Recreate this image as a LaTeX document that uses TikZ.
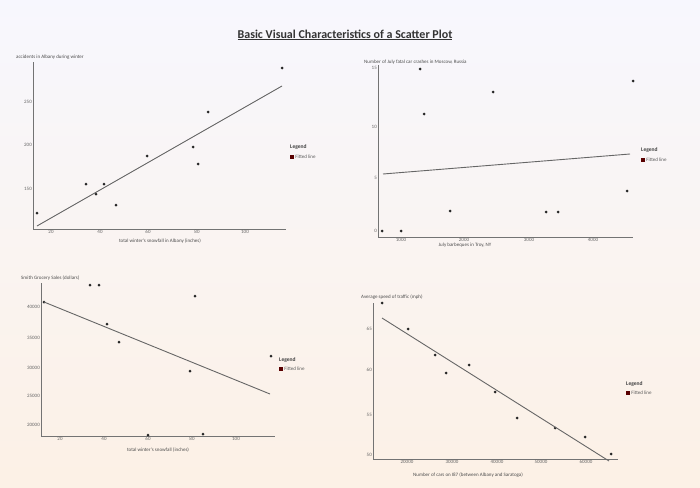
\documentclass[tikz,border=0pt]{standalone}
\usepackage{fontspec}
\setmainfont{Carlito}
\begin{document}
\begin{tikzpicture}[x=1pt,y=-1pt,
  ax/.style={draw=black!55,line width=0.6pt},
  fit/.style={draw=black!60,line width=0.9pt},
  pt/.style={circle,fill=black!85,inner sep=0pt,minimum size=3pt},
  tk/.style={font=\fontsize{5}{6}\selectfont,text=black!60,inner sep=1pt},
  lab/.style={font=\fontsize{5}{6}\selectfont,text=black!70,inner sep=0pt},
  leg/.style={font=\bfseries\fontsize{5.5}{6}\selectfont,text=black!75,anchor=west,inner sep=0pt},
  legi/.style={font=\fontsize{5}{6}\selectfont,text=black!65,anchor=west,inner sep=0pt}]
\useasboundingbox (0,0) rectangle (700,487);
\shade[top color=black!16!blue!3!white,bottom color=black!12!orange!10!white] (0,0) rectangle (700,487);
\node[font=\bfseries\fontsize{12}{14}\selectfont,text=black!80] (title) at (345,35) {\underline{Basic Visual Characteristics of a Scatter Plot}};
% Plot 1
\draw[ax] (33,62) -- (33,229) -- (286,229);
\foreach \y/\l in {102/250,145/200,189/150} \node[tk,anchor=east] at (33,\y) {\l};
\foreach \x/\l in {51/20,100/40,148/60,197/80,245/100} \node[tk,anchor=north] at (\x,229) {\l};
\node[lab,anchor=west] (t1) at (16,57) {accidents in Albany during winter};
\node[lab] (x1) at (160,241) {total winter's snowfall in Albany (inches)};
\foreach \p in {(282,68),(208,112),(193,147),(198,164),(147,156),(86,184),(96,194),(104,184),(116,205),(37,213)} \node[pt] at \p {};
\coordinate (a1) at (37,226); \coordinate (b1) at (282,86);
\draw[fit] (a1) -- (b1);
\node[leg] (l1) at (290,147) {Legend};
\node[legi] (f1) at (290,157) {\textcolor{black!65!red}{\rule{4pt}{4pt}} Fitted line};
% Plot 2
\draw[ax] (378,65) -- (378,237) -- (633,237);
\foreach \y/\l in {68/15,127/10,178/5,231/0} \node[tk,anchor=east] at (378,\y) {\l};
\foreach \x/\l in {401/1000,464/2000,529/3000,593/4000} \node[tk,anchor=north] at (\x,237) {\l};
\node[lab,anchor=west] (t2) at (364,62) {Number of July fatal car crashes in Moscow, Russia};
\node[lab] (x2) at (465,245) {July barbeques in Troy, NY};
\foreach \p in {(420,69),(493,92),(424,114),(633,81),(627,191),(450,211),(546,212),(558,212),(382,231),(401,231)} \node[pt] at \p {};
\coordinate (a2) at (383,174); \coordinate (b2) at (630,154);
\draw[fit] (a2) -- (b2);
\node[leg] (l2) at (641,150) {Legend};
\node[legi] (f2) at (641,160) {\textcolor{black!65!red}{\rule{4pt}{4pt}} Fitted line};
% Plot 3
\draw[ax] (41,283) -- (41,436) -- (275,436);
\foreach \y/\l in {307/40000,338/35000,368/30000,396/25000,425/20000} \node[tk,anchor=east] at (41,\y) {\l};
\foreach \x/\l in {60/20,104/40,148/60,192/80,236/100} \node[tk,anchor=north] at (\x,436) {\l};
\node[lab,anchor=west] (t3) at (21,278) {Smith Grocery Sales (dollars)};
\node[lab] (x3) at (158,450) {total winter's snowfall (inches)};
\foreach \p in {(90,285),(99,285),(195,296),(44,302),(107,324),(119,342),(271,356),(190,371),(148,435),(203,434)} \node[pt] at \p {};
\coordinate (a3) at (44,302); \coordinate (b3) at (270,394);
\draw[fit] (a3) -- (b3);
\node[leg] (l3) at (279,360) {Legend};
\node[legi] (f3) at (279,369) {\textcolor{black!65!red}{\rule{4pt}{4pt}} Fitted line};
% Plot 4
\draw[ax] (373,303) -- (373,459) -- (618,459);
\foreach \y/\l in {329/65,370/60,415/55,455/50} \node[tk,anchor=east] at (373,\y) {\l};
\foreach \x/\l in {407/20000,452/30000,497/40000,541/50000,586/60000} \node[tk,anchor=north] at (\x,459) {\l};
\node[lab,anchor=west] (t4) at (361,297) {Average speed of traffic (mph)};
\node[lab] (x4) at (468,475) {Number of cars on I87 (between Albany and Saratoga)};
\foreach \p in {(382,303),(408,329),(435,355),(446,373),(469,365),(495,392),(517,418),(555,428),(585,437),(611,454)} \node[pt] at \p {};
\coordinate (a4) at (382,318); \coordinate (b4) at (609,461);
\draw[fit] (a4) -- (b4);
\node[leg] (l4) at (626,384) {Legend};
\node[legi] (f4) at (626,393) {\textcolor{black!65!red}{\rule{4pt}{4pt}} Fitted line};
\end{tikzpicture}
\end{document}
